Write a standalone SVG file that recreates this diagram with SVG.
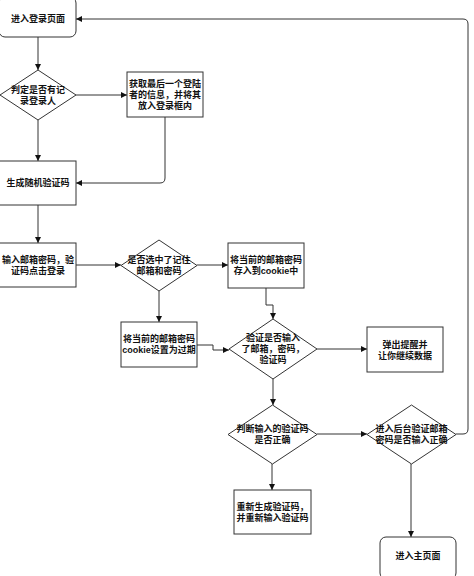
<svg xmlns="http://www.w3.org/2000/svg" width="474" height="576" viewBox="0 0 474 576">
<style>
.s{fill:#fff;stroke:#333;stroke-width:1}
.t{font-family:"Liberation Sans","Noto Sans CJK SC",sans-serif;font-size:9px;font-weight:bold;fill:#111;text-anchor:middle;dominant-baseline:central}
.c{fill:none;stroke:#333;stroke-width:1;marker-end:url(#a)}
</style>
<defs>
<marker id="a" markerUnits="userSpaceOnUse" markerWidth="7" markerHeight="7" refX="6" refY="3.5" orient="auto">
<path d="M0,0.5 L6,3.5 L0,6.5 Z" fill="#111"/>
</marker>
</defs>
<rect width="474" height="576" fill="#fff"/>
<g id="connectors">
<path class="c" d="M38 37 V70"/>
<path class="c" d="M76 95 H127"/>
<path class="c" d="M165 117 V178 Q165 183 160 183 H76"/>
<path class="c" d="M38 120 V161"/>
<path class="c" d="M38 205 V243"/>
<path class="c" d="M76 265 H121"/>
<path class="c" d="M197 265 H228"/>
<path class="c" d="M266 288 V305 H273 V319"/>
<path class="c" d="M159 291 V322"/>
<path class="c" d="M197 345 H213 V350 H229"/>
<path class="c" d="M317 349 H367"/>
<path class="c" d="M273 379 V405"/>
<path class="c" d="M317 434 H367"/>
<path class="c" d="M456 434 H463 Q468 434 468 429 V24 Q468 19 463 19 H76"/>
<path class="c" d="M272 464 V490"/>
<path class="c" d="M411 464 V537"/>
</g>
<g id="n1"><rect class="s" x="-1" y="-3" width="77" height="40" rx="6"/><text class="t" x="38" y="19">进入登录页面</text></g>
<g id="n2"><path class="s" d="M38 70 L76 95 L38 120 L0 95 Z"/><text class="t"><tspan x="38" y="89.5">判定是否有记</tspan><tspan x="38" y="100.5">录登录人</tspan></text></g>
<g id="n3"><rect class="s" x="127" y="72" width="76" height="45"/><text class="t"><tspan x="165" y="84">获取最后一个登陆</tspan><tspan x="165" y="95">者的信息，并将其</tspan><tspan x="165" y="106">放入登录框内</tspan></text></g>
<g id="n4"><rect class="s" x="-1" y="161" width="77" height="44"/><text class="t" x="38" y="183">生成随机验证码</text></g>
<g id="n5"><rect class="s" x="-1" y="243" width="77" height="44"/><text class="t"><tspan x="38" y="259.5">输入邮箱密码，验</tspan><tspan x="38" y="270.5">证码点击登录</tspan></text></g>
<g id="n6"><path class="s" d="M159 240 L197 265.5 L159 291 L121 265.5 Z"/><text class="t"><tspan x="159" y="260">是否选中了记住</tspan><tspan x="159" y="271">邮箱和密码</tspan></text></g>
<g id="n7"><rect class="s" x="228" y="243" width="76" height="45"/><text class="t"><tspan x="266" y="260">将当前的邮箱密码</tspan><tspan x="266" y="271">存入到cookie中</tspan></text></g>
<g id="n8"><rect class="s" x="121" y="322" width="76" height="45"/><text class="t"><tspan x="159" y="339">将当前的邮箱密码</tspan><tspan x="159" y="350">cookie设置为过期</tspan></text></g>
<g id="n9"><path class="s" d="M273 319 L317 349 L273 379 L229 349 Z"/><text class="t"><tspan x="273" y="338">验证是否输入</tspan><tspan x="273" y="349">了邮箱，密码，</tspan><tspan x="273" y="360">验证码</tspan></text></g>
<g id="n10"><rect class="s" x="367" y="327" width="76" height="45"/><text class="t"><tspan x="405" y="344.5">弹出提醒并</tspan><tspan x="405" y="355.5">让你继续数据</tspan></text></g>
<g id="n11"><path class="s" d="M272.5 405 L317 434.5 L272.5 464 L228 434.5 Z"/><text class="t"><tspan x="272.5" y="429">判断输入的验证码</tspan><tspan x="272.5" y="440">是否正确</tspan></text></g>
<g id="n12"><path class="s" d="M411.5 405 L456 434.5 L411.5 464 L367 434.5 Z"/><text class="t"><tspan x="411.5" y="429">进入后台验证邮箱</tspan><tspan x="411.5" y="440">密码是否输入正确</tspan></text></g>
<g id="n13"><rect class="s" x="234" y="490" width="77" height="44"/><text class="t"><tspan x="272.5" y="506.5">重新生成验证码，</tspan><tspan x="272.5" y="517.5">并重新输入验证码</tspan></text></g>
<g id="n14"><rect class="s" x="380" y="537" width="76" height="42" rx="6"/><text class="t" x="418" y="556">进入主页面</text></g>
</svg>
